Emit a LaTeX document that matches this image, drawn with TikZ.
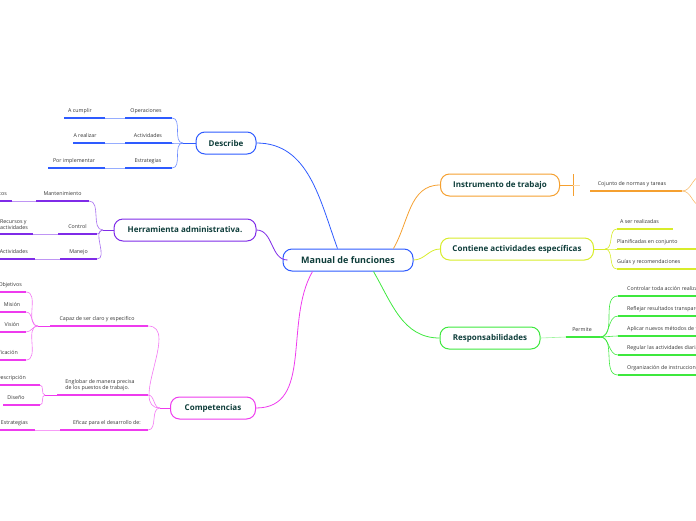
\documentclass[tikz,border=0pt]{standalone}
\usepackage{fontspec}
\setmainfont{Open Sans}
\definecolor{cblue}{HTML}{2E5BFF}
\definecolor{cpurp}{HTML}{7F2BE8}
\definecolor{cmag}{HTML}{EE3BEE}
\definecolor{corg}{HTML}{F5A030}
\definecolor{cyel}{HTML}{D8EC2A}
\definecolor{cgrn}{HTML}{3EE83E}
\definecolor{ctxt}{HTML}{0E3D3A}
\tikzset{
 x=1pt,y=-1pt,
 main/.style={draw,rounded corners=9pt,line width=1pt,minimum height=22pt,font=\fontsize{8}{9}\selectfont\bfseries,text=ctxt,fill=white,inner xsep=8pt},
 lab/.style={font=\fontsize{5.3}{6.5}\selectfont,text=black!80,inner sep=0pt,anchor=base},
 ul/.style={line width=1.4pt},
 con/.style={line width=0.6pt},
}
\begin{document}
\begin{tikzpicture}
\useasboundingbox (0,0) rectangle (696,520);
\clip (0,0) rectangle (696,520);
% central
\node[main,draw=cblue,minimum width=130pt,font=\fontsize{9}{10}\selectfont\bfseries] (c) at (348,260) {Manual de funciones};
% ---------- Describe
\node[main,draw=cblue,minimum width=60pt] (d) at (226,143) {Describe};
\draw[cblue,con] (c.north west)++(52,0) coordinate (cd) ;
\draw[cblue,line width=0.8pt] ([xshift=55pt]c.north west) to[out=110,in=0] (d.east);
\coordinate (dj) at (183,143);
\draw[cblue,con] (d.west) -- (dj);
\foreach \y/\a/\b/\ta/\tb/\xb in {118/Operaciones/A cumplir/146/80/64,143/Actividades/A realizar/148/85/73,168/Estrategias/Por implementar/148/74/48}{
  \coordinate (r1) at (172,\y); \coordinate (l1) at (125,\y); \coordinate (r2) at (105,\y); \coordinate (l2) at (\xb,\y);
  \draw[cblue!70,con] (dj) to[out=180,in=0] (r1);
  \draw[cblue,ul] (r1) -- (l1);
  \draw[cblue!50,con] (l1) -- (r2);
  \draw[cblue,ul] (r2) -- (l2);
  \node[lab] at (\ta,\y-6) {\a};
  \node[lab] at (\tb,\y-6) {\b};
}
% ---------- Herramienta
\node[main,draw=cpurp,minimum width=142pt] (h) at (185,230) {Herramienta administrativa.};
\draw[cpurp,line width=0.8pt] ([xshift=5pt]c.west) to[out=180,in=0] (h.east);
\coordinate (hj) at (103,230);
\draw[cpurp,con] (h.west) -- (hj);
\foreach \y/\xr/\xl/\t in {201/89/36/Mantenimiento,234/97/58/Control,259/97/60/Manejo}{
  \coordinate (r1) at (\xr,\y); \coordinate (l1) at (\xl,\y);
  \draw[cpurp!70,con] (hj) to[out=180,in=0] (r1);
  \draw[cpurp,ul] (r1) -- (l1);
  \node[lab] at ({(\xr+\xl)/2},\y-6) {\t};
}
\draw[cpurp!50,con] (36,201) -- (12,201); \draw[cpurp,ul] (12,201) -- (0,201);
\node[lab,anchor=base east] at (7,195) {Costos};
\draw[cpurp!50,con] (58,234) -- (33,234); \draw[cpurp,ul] (33,234) -- (0,234);
\node[lab,anchor=south east,align=left] at (28,230) {Recursos y\\actividades};
\draw[cpurp!50,con] (60,259) -- (35,259); \draw[cpurp,ul] (35,259) -- (0,259);
\node[lab,anchor=base east] at (28,253) {Actividades};
% ---------- Competencias
\node[main,draw=cmag,minimum width=85pt] (k) at (213,408) {Competencias};
\draw[cmag,line width=0.8pt] ([xshift=30pt]c.south west) to[out=240,in=0] (k.east);
\coordinate (kj) at (160,408);
\draw[cmag,con] (k.west) -- (kj);
\coordinate (k1) at (148,326); \coordinate (k2) at (148,395); \coordinate (k3) at (148,430);
\foreach \p in {k1,k2,k3}{\draw[cmag!70,con] (kj) to[out=180,in=0] (\p);}
\draw[cmag,ul] (k1) -- (50,326); \node[lab] at (97,320) {Capaz de ser claro y especifico};
\draw[cmag,ul] (k2) -- (57,395); \node[lab,anchor=south,align=left] at (100,391) {Englobar de manera precisa\\de los puestos de trabajo.};
\draw[cmag,ul] (k3) -- (60,430); \node[lab] at (107,424) {Eficaz para el desarrollo de:};
% sub of k1
\coordinate (kk1) at (38,326);
\draw[cmag,con] (50,326) -- (kk1);
\foreach \y in {292,312,332,360}{\draw[cmag!70,con] (kk1) to[out=180,in=0] (26,\y); \draw[cmag,ul] (26,\y) -- (0,\y);}
\node[lab,anchor=base east] at (22,286) {Objetivos};
\node[lab] at (12,306) {Misión};
\node[lab] at (12,326) {Visión};
\node[lab,anchor=base east] at (18,354) {Planificación};
% sub of k2
\coordinate (kk2) at (45,395);
\draw[cmag,con] (57,395) -- (kk2);
\draw[cmag!70,con] (kk2) to[out=180,in=0] (40,385); \draw[cmag,ul] (40,385) -- (0,385);
\draw[cmag!70,con] (kk2) to[out=180,in=0] (40,405); \draw[cmag,ul] (40,405) -- (3,405);
\node[lab,anchor=base east] at (26,379) {Descripción};
\node[lab] at (16,399) {Diseño};
% sub of k3
\draw[cmag!50,con] (60,430) -- (35,430); \draw[cmag,ul] (35,430) -- (0,430);
\node[lab,anchor=base east] at (28,424) {Estrategias};
% ---------- Instrumento
\node[main,draw=corg,minimum width=119pt] (i) at (500,185) {Instrumento de trabajo};
\draw[corg,line width=0.8pt] ([xshift=-20pt]c.north east) to[out=60,in=180] (i.west);
\draw[corg,con] (i.east) -- (573,185);
\draw[corg,line width=0.8pt] (573,174) -- (573,196);
\draw[corg!40,con] (573,185) -- (580,185);
\draw[corg,ul] (590,191) -- (682,191);
\node[lab] at (632,185) {Cojunto de normas y tareas};
\draw[corg!70,con] (682,191) to[out=0,in=200] (700,176);
\draw[corg!70,con] (682,191) to[out=0,in=160] (700,206);
% ---------- Contiene
\node[main,draw=cyel,minimum width=153pt] (a) at (517,249) {Contiene actividades específicas};
\draw[cyel,line width=0.8pt] (c.east) to[out=0,in=180] (a.west);
\coordinate (aj) at (605,249);
\draw[cyel,con] (a.east) -- (aj);
\foreach \y/\xr/\t/\tx in {229/673/A ser realizadas/620,249/700/Planificadas en conjunto/617,269/700/Guías y recomendaciones/617}{
  \draw[cyel,con] (aj) to[out=0,in=180] (617,\y);
  \draw[cyel,ul] (617,\y) -- (\xr,\y);
  \node[lab,anchor=base west] at (\tx,\y-6) {\t};
}
% ---------- Responsabilidades
\node[main,draw=cgrn,minimum width=100pt] (r) at (490,338) {Responsabilidades};
\draw[cgrn,line width=0.8pt] ([xshift=-40pt]c.south east) to[out=300,in=180] (r.west);
\draw[cgrn!50,con] (r.east) -- (566,337);
\draw[cgrn,ul] (566,337) -- (600,337);
\node[lab] at (582,331) {Permite};
\foreach \y/\t in {296/Controlar toda acción realizada,316/Reflejar resultados transparentes,336/Aplicar nuevos métodos de trabajo,355/Regular las actividades diarias,375/Organización de instrucciones}{
  \draw[cgrn,con] (600,337) to[out=0,in=180] (618,\y);
  \draw[cgrn,ul] (618,\y) -- (700,\y);
  \node[lab,anchor=base west] at (627,\y-6) {\t};
}
\end{tikzpicture}
\end{document}
